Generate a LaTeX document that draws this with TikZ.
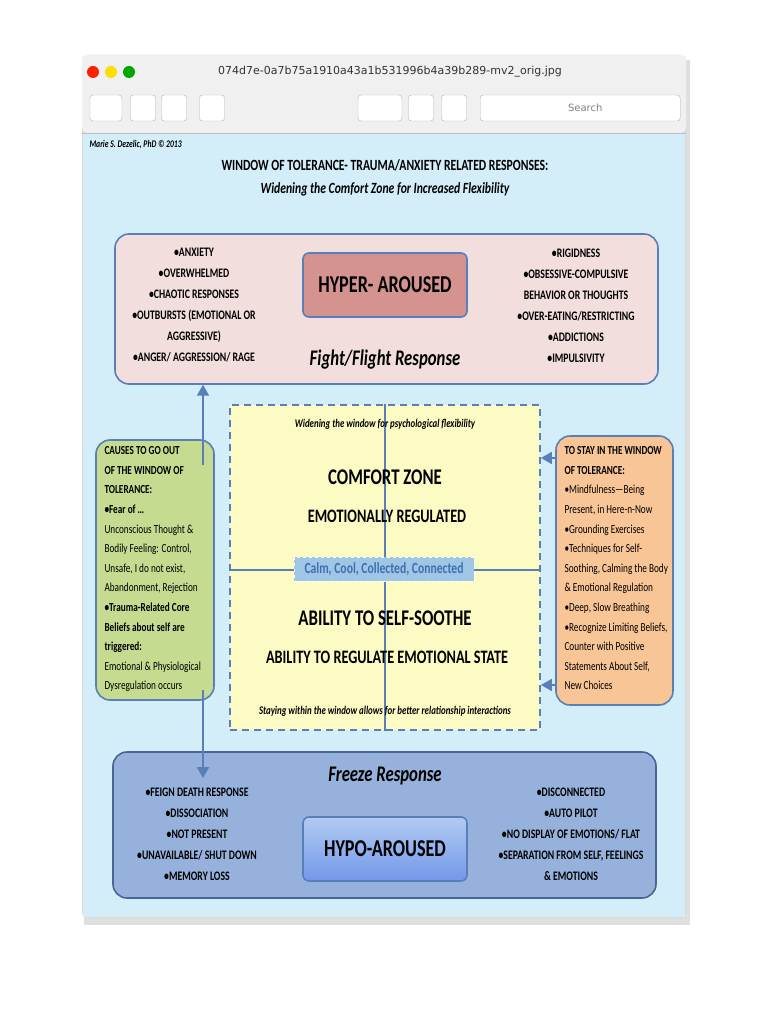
\documentclass[tikz,border=0pt]{standalone}
\usepackage{fontspec}
\setmainfont{Carlito}
\newfontfamily\narrow{Carlito}[FakeStretch=0.75]
\usetikzlibrary{arrows,shapes,positioning}
\definecolor{frameblue}{HTML}{5A7FB8}
\definecolor{skybg}{HTML}{D3EEF8}
\definecolor{hyperbg}{HTML}{F1DEDD}
\definecolor{hyperkey}{HTML}{D4938F}
\definecolor{hypobg}{HTML}{96B2DC}
\definecolor{hypokey}{HTML}{7FA8E8}
\definecolor{zonebg}{HTML}{FDFBC4}
\definecolor{greenbg}{HTML}{C4DB90}
\definecolor{orangebg}{HTML}{F8C597}
\definecolor{calmbg}{HTML}{9FC6E4}
\definecolor{calmtxt}{HTML}{3F6FB3}
\tikzset{
  panel/.style={draw=frameblue, line width=1.6pt, rounded corners=14pt},
  keybox/.style={draw=frameblue, line width=1.6pt, rounded corners=6pt, minimum width=164pt, minimum height=64pt, font=\narrow\bfseries\fontsize{24.2}{26}\selectfont},
  lst/.style={align=center, font=\narrow\bfseries\fontsize{13}{21}\selectfont},
  side/.style={align=left, font=\narrow\fontsize{12.3}{19.6}\selectfont, anchor=north west},
  big/.style={font=\narrow\bfseries\fontsize{22.4}{23}\selectfont},
  mid/.style={font=\narrow\bfseries\fontsize{19}{20}\selectfont},
  resp/.style={font=\narrow\bfseries\itshape\fontsize{22.3}{23}\selectfont},
  note/.style={font=\narrow\bfseries\itshape\fontsize{11.8}{12}\selectfont},
  flow/.style={draw=frameblue, line width=2pt, -triangle 60},
  btn/.style={draw=gray!60, fill=white, rounded corners=3pt, minimum width=25pt, minimum height=26pt}
}
\begin{document}
\begin{tikzpicture}[x=1pt, y=-1pt]
  \useasboundingbox (0,0) rectangle (768,1024);
  \fill[white] (0,0) rectangle (768,1024);
  % window
  \fill[gray!25] (84,60) rectangle (690,925);
  \fill[gray!30, rounded corners=5pt] (82,55) rectangle (686,918);
  \fill[gray!12, rounded corners=5pt] (82,55) rectangle (686,133);
  \fill[skybg] (83,133) rectangle (685,917);
  \draw[gray!50] (82,133) -- (686,133);
  \fill[red!75!orange] (93,72) circle (6);
  \fill[yellow!80!orange] (111,72) circle (6);
  \fill[green!65!black] (129,72) circle (6);
  \node (fname) at (390,72) {\fontspec{DejaVu Sans}\fontsize{11}{12}\selectfont\color{gray!40!black}074d7e-0a7b75a1910a43a1b531996b4a39b289-mv2\_orig.jpg};
  \node[btn, minimum width=32pt] (bside) at (106,108) {};
  \node[btn] (bzoomout) at (143,108) {};
  \node[btn] (bzoomin) at (174,108) {};
  \node[btn] (bshare) at (212,108) {};
  \node[btn, minimum width=44pt] (bpen) at (380,108) {};
  \node[btn] (brot) at (421,108) {};
  \node[btn] (bmark) at (454,108) {};
  \node[btn, minimum width=200pt, anchor=west] (bsearch) at (480,108) {\fontspec{DejaVu Sans}\fontsize{10}{12}\selectfont\color{gray}\hspace{10pt}Search\hfill};
  % heading
  \node[anchor=west, font=\narrow\bfseries\itshape\fontsize{10.2}{11}\selectfont] (author) at (86,145) {Marie S. Dezelic, PhD © 2013};
  \node[font=\narrow\bfseries\fontsize{15.6}{16}\selectfont] (title) at (385,165) {WINDOW OF TOLERANCE- TRAUMA/ANXIETY RELATED RESPONSES:};
  \node[font=\narrow\bfseries\itshape\fontsize{15.6}{16}\selectfont] (subtitle) at (385,189) {Widening the Comfort Zone for Increased Flexibility};
  % hyper
  \node[panel, fill=hyperbg, minimum width=543pt, minimum height=150pt] (hyper) at (386.5,309) {};
  \node[keybox, fill=hyperkey] (hyperkey) at (385,285) {HYPER- AROUSED};
  \node[lst, anchor=north] (hyperL) at (194,245) {•ANXIETY\\•OVERWHELMED\\•CHAOTIC RESPONSES\\•OUTBURSTS (EMOTIONAL OR\\AGGRESSIVE)\\•ANGER/ AGGRESSION/ RAGE};
  \node[lst, anchor=north] (hyperR) at (576,245) {•RIGIDNESS\\•OBSESSIVE-COMPULSIVE\\BEHAVIOR OR THOUGHTS\\•OVER-EATING/RESTRICTING\\•ADDICTIONS\\•IMPULSIVITY};
  \node[resp] (fight) at (385,360) {Fight/Flight Response};
  % hypo
  \node[panel, fill=hypobg, draw=frameblue!80!black, minimum width=543pt, minimum height=146pt] (hypo) at (384.5,825) {};
  \node[resp] (freeze) at (385,776) {Freeze Response};
  \node[keybox, top color=hypokey!60, bottom color=hypokey!90!blue] (hypokey) at (385,849) {HYPO-AROUSED};
  \node[lst, anchor=north] (hypoL) at (197,784) {•FEIGN DEATH RESPONSE\\•DISSOCIATION\\•NOT PRESENT\\•UNAVAILABLE/ SHUT DOWN\\•MEMORY LOSS};
  \node[lst, anchor=north] (hypoR) at (571,784) {•DISCONNECTED\\•AUTO PILOT\\•NO DISPLAY OF EMOTIONS/ FLAT\\•SEPARATION FROM SELF, FEELINGS\\\& EMOTIONS};
  % comfort zone
  \node[draw=frameblue, fill=zonebg, line width=2pt, dash pattern=on 7pt off 5pt, minimum width=310pt, minimum height=325pt] (zone) at (385,567.5) {};
  \draw[frameblue, line width=1.2pt] (zone.north) -- (zone.south);
  \draw[frameblue, line width=1.2pt] (zone.west |- 0,570) -- (zone.east |- 0,570);
  \node[fill=calmbg, draw=white, dashed, minimum width=180pt, minimum height=24pt, text=calmtxt, font=\narrow\bfseries\fontsize{15.5}{16}\selectfont] (calm) at (384,569) {Calm, Cool, Collected, Connected};
  \node[note] (widen) at (385,424) {Widening the window for psychological flexibility};
  \node[big] (comfort) at (385,477) {COMFORT ZONE};
  \node[mid] (regulated) at (387,516) {EMOTIONALLY REGULATED};
  \node[big] (soothe) at (385,618) {ABILITY TO SELF-SOOTHE};
  \node[mid] (regulate) at (387,657) {ABILITY TO REGULATE EMOTIONAL STATE};
  \node[note] (staying) at (385,711) {Staying within the window allows for better relationship interactions};
  % side panels
  \node[panel, fill=greenbg, minimum width=118pt, minimum height=260pt] (causes) at (155,570) {};
  \node[side] (causesT) at (101,443) {\textbf{CAUSES TO GO OUT}\\\textbf{OF THE WINDOW OF}\\\textbf{TOLERANCE:}\\\textbf{•Fear of …}\\Unconscious Thought \&\\Bodily Feeling: Control,\\Unsafe, I do not exist,\\Abandonment, Rejection\\\textbf{•Trauma-Related Core}\\\textbf{Beliefs about self are}\\\textbf{triggered:}\\Emotional \& Physiological\\Dysregulation occurs};
  \node[panel, fill=orangebg, minimum width=117pt, minimum height=269pt] (stay) at (614.5,570.5) {};
  \node[side] (stayT) at (561,443) {\textbf{TO STAY IN THE WINDOW}\\\textbf{OF TOLERANCE:}\\•Mindfulness—Being\\Present, in Here-n-Now\\•Grounding Exercises\\•Techniques for Self-\\Soothing, Calming the Body\\\& Emotional Regulation\\•Deep, Slow Breathing\\•Recognize Limiting Beliefs,\\Counter with Positive\\Statements About Self,\\New Choices};
  % connectors
  \coordinate (upfoot) at (203,465);
  \coordinate (downfoot) at (203,690);
  \draw[flow] (upfoot) -- (upfoot |- hyper.south);
  \draw[flow] (downfoot) -- (203,778);
  \draw[flow] (stay.west |- 0,458) -- (zone.east |- 0,458);
  \draw[flow] (stay.west |- 0,685) -- (zone.east |- 0,685);
\end{tikzpicture}
\end{document}
